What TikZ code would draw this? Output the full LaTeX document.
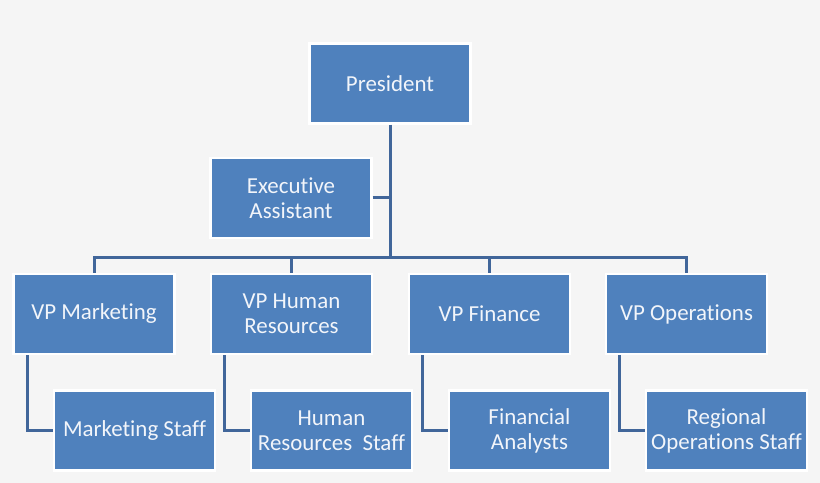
\documentclass[tikz,border=0pt]{standalone}
\usepackage{fontspec}
\setmainfont{Carlito}[Ligatures=NoCommon]
\usepackage{tikz}
\usetikzlibrary{positioning}
\usepackage{xcolor}
\definecolor{BoxFill}{HTML}{4F81BD}
\definecolor{LinkLine}{HTML}{41669A}
\definecolor{PageBack}{HTML}{F5F5F5}
\definecolor{BoxText}{HTML}{F2F5FA}

\begin{document}
\begin{tikzpicture}[x=1bp, y=-1bp,
    box/.style={rectangle, fill=BoxFill, draw=white, line width=2.2bp,
      minimum width=161bp, minimum height=80bp, inner sep=0pt,
      text=BoxText, align=center, font=\fontsize{23}{25}\selectfont},
    link/.style={draw=LinkLine, line width=3bp}]
  % background
  \fill[PageBack] (0,0) rectangle (820,483);
  \useasboundingbox (0,0) rectangle (820,483);

  \node[box] (pres) at (390,83.5) {President};
  \node[box] (exec) at (291,198) {Executive\\Assistant};

  \node[box] (vpm)  at (94,314)    {VP Marketing};
  \node[box] (vphr) at (291.5,314) {VP Human\\Resources};
  \node[box] (vpf)  at (489.5,314) {VP Finance};
  \node[box] (vpo)  at (686.5,314) {VP Operations};

  \node[box] (mst)  at (134.5,430.5) {Marketing Staff};
  \node[box] (hrst) at (331.5,430.5) {Human\\Resources\hspace{0.45em}Staff};
  \node[box] (fin)  at (529.5,430.5) {Financial\\Analysts};
  \node[box] (opst) at (726.5,430.5) {Regional\\Operations Staff};

  % connectors
  \coordinate (busL) at (94,258);
  \coordinate (busR) at (686.5,258);
  \draw[link] (pres.south) -- (pres.south |- busL);
  \draw[link] (exec.east) -- (exec.east -| pres.south);
  \draw[link] (vpm.north) -- (busL) -- (busR) -- (vpo.north);
  \draw[link] (vphr.north) -- (vphr.north |- busL);
  \draw[link] (vpf.north) -- (vpf.north |- busL);
  \foreach \vp/\st in {vpm/mst, vphr/hrst, vpf/fin, vpo/opst}
    \draw[link] ([xshift=15bp]\vp.south west) |- (\st.west);
\end{tikzpicture}
\end{document}
